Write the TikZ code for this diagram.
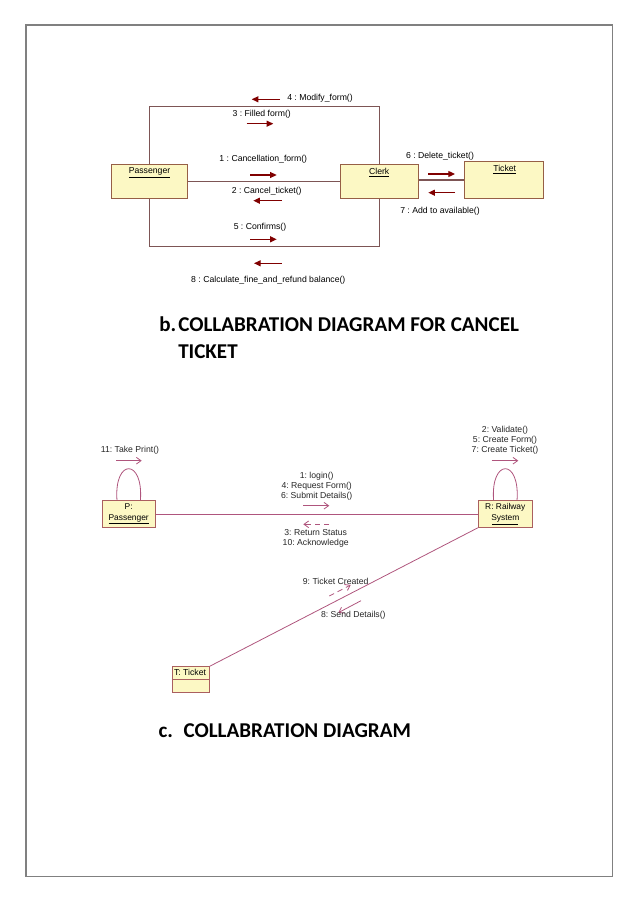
\documentclass[tikz,border=0pt]{standalone}
\usepackage{fontspec}
\setmainfont{Liberation Sans}
\newfontfamily\titlefont{Carlito}
\usetikzlibrary{arrows.meta,positioning}
\frenchspacing
\definecolor{boxfill}{RGB}{252,248,196}
\definecolor{boxline}{RGB}{150,95,70}
\definecolor{linkline}{RGB}{125,85,85}
\definecolor{msgred}{RGB}{128,0,0}
\definecolor{pinkline}{RGB}{175,85,125}
\definecolor{pinkbox}{RGB}{170,95,95}
\tikzset{
  objbox/.style={draw=boxline, fill=boxfill, line width=0.8pt, inner sep=0pt},
  pinkobj/.style={draw=pinkbox, fill=boxfill, line width=0.7pt, inner sep=1pt, align=center, font=\fontsize{6.3}{8}\selectfont},
  link/.style={draw=linkline, line width=0.8pt},
  pinklink/.style={draw=pinkline, line width=0.6pt},
  msg/.style={draw=msgred, line width=0.9pt, -{Triangle[length=5pt,width=4.5pt]}},
  omsg/.style={draw=pinkline, line width=0.6pt, -{Straight Barb[length=3.5pt,width=5pt]}},
  lbl/.style={font=\fontsize{6.5}{7.5}\selectfont, inner sep=0pt},
  tlbl/.style={font=\fontsize{6.5}{7.5}\selectfont, inner sep=0pt, align=center, text=black!85},
  heading/.style={font=\titlefont\bfseries\fontsize{15.8}{18}\selectfont, anchor=base west, inner sep=0pt}
}
\begin{document}
\begin{tikzpicture}[x=0.75pt, y=-0.75pt]
        \useasboundingbox (0,0) rectangle (638,902);
        \draw[gray, line width=0.8pt] (26,25) rectangle (612.5,876.5);

        % cancel ticket diagram
        \node[objbox, minimum width=56.7pt, minimum height=26pt] (pass) at (149.5,181.4) {};
        \node[objbox, minimum width=58.7pt, minimum height=26pt] (clerk) at (379.2,181.4) {};
        \node[objbox, minimum width=59.2pt, minimum height=27.5pt] (ticket) at (503.8,180) {};
        \node[lbl] at (149.5,172.7) {\underline{Passenger}};
        \node[lbl] at (379.2,172.7) {\underline{Clerk}};
        \node[lbl] at (504.7,169.3) {\underline{Ticket}};

        \draw[link] (pass.east) -- (clerk.west);
        \draw[link] (pass.north) -- ++(0,-57.3) -| (clerk.north);
        \draw[link] (pass.south) -- ++(0,47) -| (clerk.south);
        \draw[link] (clerk.east |- 0,180) -- (ticket.west |- 0,180);

        \node[lbl] (m4) at (320,98.3) {4 : Modify\_form()};
        \draw[msg] (280,99.3) -- (251.7,99.3);
        \node[lbl] (m3) at (261.7,114.3) {3 : Filled form()};
        \draw[msg] (246.7,123.7) -- (273.3,123.7);
        \node[lbl] (m1) at (263.3,159) {1 : Cancellation\_form()};
        \draw[msg] (250,175) -- (276.7,175);
        \node[lbl] (m2) at (266.7,191) {2 : Cancel\_ticket()};
        \draw[msg] (281.7,200.7) -- (253.3,200.7);
        \node[lbl] (m5) at (260,227.7) {5 : Confirms()};
        \draw[msg] (250,239.3) -- (276.7,239.3);
        \draw[msg] (281.7,263.3) -- (254,263.3);
        \node[lbl] (m8) at (268.3,280) {8 : Calculate\_fine\_and\_refund balance()};
        \node[lbl] (m6) at (440,156) {6 : Delete\_ticket()};
        \draw[msg] (428.3,174) -- (455,174);
        \draw[msg] (455,192.7) -- (428.3,192.7);
        \node[lbl] (m7) at (440,211.7) {7 : Add to available()};

        \node[heading] (hb) at (159,331.7) {b.};
        \node[heading] (hbt) at (178,331.7) {COLLABRATION DIAGRAM FOR CANCEL};
        \node[heading] (hbt2) at (178,358.7) {TICKET};

        % collaboration diagram
        \node[pinkobj, minimum width=39.5pt, minimum height=20pt] (P) at (128.7,514) {P:\\\underline{Passenger}};
        \node[pinkobj, minimum width=40.5pt, minimum height=20pt] (R) at (505.3,514) {R: Railway\\\underline{\makebox[3.1em]{System}}};
        \node[draw=pinkbox, fill=boxfill, line width=0.7pt, minimum width=27.8pt, minimum height=19.5pt] (T) at (190.8,679.7) {};
        \node[lbl, anchor=north west, font=\fontsize{6.5}{7.5}\selectfont] at ([shift={(2,2.5)}]T.north west) {T: Ticket};
        \draw[draw=pinkbox, line width=0.6pt] ([yshift=-9.5pt]T.north west) -- ([yshift=-9.5pt]T.north east);

        \draw[pinklink] (P.east) -- (R.west);
        \draw[pinklink] (R.south west) -- (T.north east);
        \draw[pinklink] ([xshift=-8.8pt]P.north) .. controls +(-3,-42) and +(3,-42) .. ([xshift=8.8pt]P.north);
        \draw[pinklink] ([xshift=-8.8pt]R.north) .. controls +(-3,-42) and +(3,-42) .. ([xshift=8.8pt]R.north);

        \node[tlbl] (t11) at (130,450) {11: Take Print()};
        \draw[omsg] (116,460.7) -- (141.7,460.7);
        \node[tlbl] (t2) at (505,440.7) {2: Validate()\\5: Create Form()\\7: Create Ticket()};
        \draw[omsg] (491.7,460.7) -- (518.3,460.7);
        \node[tlbl] (t1) at (316.7,485.8) {1: login()\\4: Request Form()\\6: Submit Details()};
        \draw[omsg] (303.3,505.7) -- (329.3,505.7);
        \draw[omsg, dashed, dash pattern=on 4pt off 3pt] (329.3,524.3) -- (303.3,524.3);
        \node[tlbl] (t3) at (315.7,538) {3: Return Status\\10: Acknowledge};
        \node[tlbl] (t9) at (335.7,581.7) {9: Ticket Created};
        \draw[omsg, dashed, dash pattern=on 4pt off 3pt] (329.3,596) -- (350.7,585);
        \draw[omsg] (361,600.7) -- (338.3,612.7);
        \node[tlbl] (t8) at (353.3,615.3) {8: Send Details()};

        \node[heading] (hc) at (158.3,737.7) {c.};
        \node[heading] (hct) at (183.3,737.7) {COLLABRATION DIAGRAM};
\end{tikzpicture}
\end{document}
